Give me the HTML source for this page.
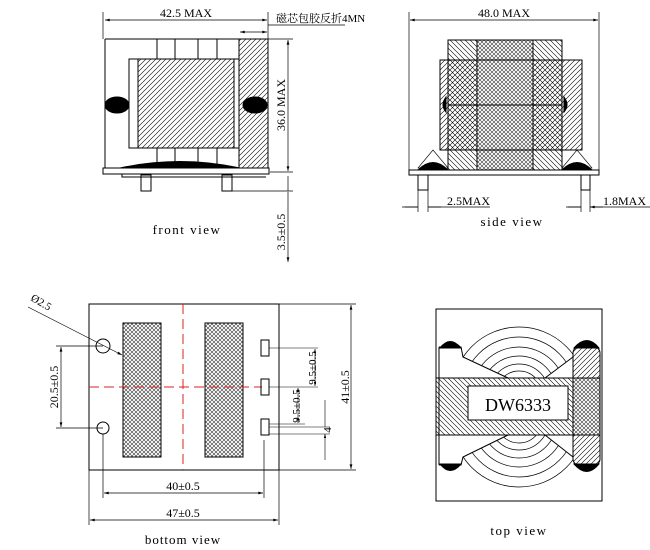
<!DOCTYPE html>
<html><head><meta charset="utf-8"><style>body{margin:0;background:#fff}svg{display:block}</style></head><body>
<svg width="650" height="550" viewBox="0 0 650 550" xmlns="http://www.w3.org/2000/svg" font-family="Liberation Serif, Noto Serif CJK SC, serif" fill="none" stroke="#000" stroke-width="1">
<defs>
<pattern id="h1" width="5" height="5" patternUnits="userSpaceOnUse"><path d="M0 5L5 0M-1 1L1 -1M4 6L6 4" stroke="#000" stroke-width="0.6"/></pattern>
<pattern id="h2" width="5" height="5" patternUnits="userSpaceOnUse"><path d="M0 0L5 5M-1 4L1 6M4 -1L6 1" stroke="#000" stroke-width="0.6"/></pattern>
<pattern id="x" width="4" height="4" patternUnits="userSpaceOnUse"><rect width="4" height="4" fill="#fff" stroke="none"/><path d="M0 0L4 4M4 0L0 4" stroke="#333" stroke-width="0.6"/></pattern>
<clipPath id="ct"><path d="M463 357L508 378H545L573 357V300H463z"/></clipPath>
<clipPath id="cb"><path d="M463 457L508 435H545L573 457V520H463z"/></clipPath>
<marker id="a" viewBox="0 0 10 6" refX="10" refY="3" markerWidth="10" markerHeight="4" orient="auto-start-reverse"><path d="M0 0L10 3L0 6z" fill="#000" stroke="none"/></marker>
</defs>
<!-- FRONT VIEW -->
<g>
<path d="M105 39V168M105 39H268"/>
<rect x="239" y="39" width="29" height="129" fill="url(#h1)"/>
<rect x="129" y="59" width="110" height="89"/>
<rect x="138" y="59" width="96" height="89" fill="url(#h1)"/>
<path d="M157 39V59M175 39V59M198 39V59M217 39V59M157 148V165M175 148V165M198 148V165M217 148V165"/>
<ellipse cx="117" cy="105" rx="12" ry="8" fill="#000"/>
<ellipse cx="255" cy="105" rx="12" ry="8" fill="#000"/>
<path d="M120 168Q180 155 240 168z" fill="#000"/>
<rect x="103" y="168" width="166" height="6"/>
<path d="M122 174V177H266"/>
<rect x="141" y="175" width="10" height="16"/>
<rect x="222" y="175" width="10" height="16"/>
<path d="M103 12V39M268 12V39" stroke-width="0.7"/>
<path d="M105 20H267" marker-start="url(#a)" marker-end="url(#a)" stroke-width="0.7"/>
<text x="186" y="17" font-size="12" fill="#000" stroke="none" text-anchor="middle">42.5 MAX</text>
<path d="M240 32H267" marker-start="url(#a)" marker-end="url(#a)" stroke-width="0.7"/>
<path d="M268 25H345" stroke-width="0.7"/>
<text x="276" y="22" font-size="11" fill="#000" stroke="none">磁芯包胶反折4MN</text>
<path d="M268 39H293M270 172H293M232 191H293" stroke-width="0.7"/>
<path d="M288 40V171" marker-start="url(#a)" marker-end="url(#a)" stroke-width="0.7"/>
<path d="M288 176V191M288 192V262" marker-end="url(#a)" stroke-width="0.7"/>
<text transform="translate(285 105) rotate(-90)" font-size="12" fill="#000" stroke="none" text-anchor="middle">36.0 MAX</text>
<text transform="translate(285 232) rotate(-90)" font-size="12" fill="#000" stroke="none" text-anchor="middle">3.5±0.5</text>
<text x="187" y="234" font-size="13" fill="#000" stroke="none" text-anchor="middle" letter-spacing="1.5">front view</text>
</g>
<!-- SIDE VIEW -->
<g>
<path d="M409 12V170M599 12V170" stroke-width="0.7"/>
<path d="M410 20H598" marker-start="url(#a)" marker-end="url(#a)" stroke-width="0.7"/>
<text x="504" y="17" font-size="12" fill="#000" stroke="none" text-anchor="middle">48.0 MAX</text>
<rect x="440" y="60" width="142" height="90" fill="url(#h1)"/>
<rect x="448" y="40" width="114" height="130" fill="url(#h2)"/>
<rect x="477" y="40" width="56" height="130" fill="url(#x)"/>
<path d="M448 60H562M448 105H562M448 150H562"/>
<path d="M433 150L418 168H448z M577 150L592 168H562z" stroke-width="0.6"/>
<path d="M418 170Q433 155 448 170z M562 170Q577 155 592 170z" fill="#000"/>
<path d="M446 97Q440 105 446 112z M564 97Q570 105 564 112z" fill="#000"/>
<rect x="409" y="170" width="190" height="5"/>
<rect x="418" y="175" width="10" height="15"/>
<rect x="581" y="175" width="9" height="15"/>
<path d="M418 190V212M428 190V212M581 190V212M590 190V212" stroke-width="0.7"/>
<path d="M402 207H418M428 207H490M566 207H581M590 207H650" stroke-width="0.7"/>
<path d="M405 207H418M441 207H428M568 207H581M603 207H590" marker-end="url(#a)" stroke-width="0.7"/>
<text x="447" y="205" font-size="12" fill="#000" stroke="none">2.5MAX</text>
<text x="603" y="205" font-size="12" fill="#000" stroke="none">1.8MAX</text>
<text x="512" y="226" font-size="13" fill="#000" stroke="none" text-anchor="middle" letter-spacing="1.5">side view</text>
</g>
<!-- BOTTOM VIEW -->
<g>
<rect x="89" y="304" width="190" height="166"/>
<rect x="123" y="323" width="38" height="134" fill="url(#x)"/>
<rect x="205" y="323" width="38" height="134" fill="url(#x)"/>
<path d="M183 304V470M89 387H262" stroke="#d22" stroke-dasharray="10 5"/>
<circle cx="103" cy="346" r="7"/>
<circle cx="103" cy="428" r="6"/>
<rect x="261" y="340" width="8" height="16"/>
<rect x="261" y="379" width="8" height="16"/>
<rect x="261" y="419" width="8" height="16"/>
<path d="M28 307L122 355" stroke-width="0.7" marker-end="url(#a)"/>
<text transform="translate(30 300) rotate(30)" font-size="11" fill="#000" stroke="none">Ø2.5</text>
<path d="M56 346H103M56 428H103" stroke-width="0.7"/>
<path d="M61 347V427" marker-start="url(#a)" marker-end="url(#a)" stroke-width="0.7"/>
<text transform="translate(58 387) rotate(-90)" font-size="12" fill="#000" stroke="none" text-anchor="middle">20.5±0.5</text>
<path d="M269 348H318M269 387H318M269 424H305M269 427H330M269 434H330" stroke-width="0.6"/>
<path d="M315 349V386" marker-start="url(#a)" marker-end="url(#a)" stroke-width="0.6"/>
<path d="M298 388V423" marker-start="url(#a)" marker-end="url(#a)" stroke-width="0.6"/>
<path d="M325 400V427M325 460V434" marker-end="url(#a)" stroke-width="0.6"/>
<text transform="translate(316 368) rotate(-90)" font-size="11" fill="#000" stroke="none" text-anchor="middle">9.5±0.5</text>
<text transform="translate(300 406) rotate(-90)" font-size="11" fill="#000" stroke="none" text-anchor="middle">9.5±0.5</text>
<text transform="translate(331 430) rotate(-90)" font-size="11" fill="#000" stroke="none" text-anchor="middle">4</text>
<path d="M279 304H356M279 470H356" stroke-width="0.7"/>
<path d="M351 305V469" marker-start="url(#a)" marker-end="url(#a)" stroke-width="0.7"/>
<text transform="translate(349 387) rotate(-90)" font-size="12" fill="#000" stroke="none" text-anchor="middle">41±0.5</text>
<path d="M103 434V498M264 440V498M89 470V525M279 470V525" stroke-width="0.7"/>
<path d="M104 493H263" marker-start="url(#a)" marker-end="url(#a)" stroke-width="0.7"/>
<path d="M90 520H278" marker-start="url(#a)" marker-end="url(#a)" stroke-width="0.7"/>
<text x="183" y="490" font-size="12" fill="#000" stroke="none" text-anchor="middle">40±0.5</text>
<text x="183" y="517" font-size="12" fill="#000" stroke="none" text-anchor="middle">47±0.5</text>
<text x="183" y="544" font-size="13" fill="#000" stroke="none" text-anchor="middle" letter-spacing="1">bottom view</text>
</g>
<!-- TOP VIEW -->
<g>
<rect x="436" y="309" width="166" height="192"/>
<g stroke-width="0.7" clip-path="url(#ct)">
<circle cx="519" cy="394" r="67"/><circle cx="519" cy="394" r="57"/><circle cx="519" cy="394" r="47"/><circle cx="519" cy="394" r="38"/><circle cx="519" cy="394" r="30"/><circle cx="519" cy="394" r="23"/>
</g>
<g stroke-width="0.7" clip-path="url(#cb)">
<circle cx="519" cy="420" r="67"/><circle cx="519" cy="420" r="57"/><circle cx="519" cy="420" r="47"/><circle cx="519" cy="420" r="38"/><circle cx="519" cy="420" r="30"/><circle cx="519" cy="420" r="23"/>
</g>
<path d="M439 347H461L463 357L508 378M573 357L545 378"/>
<path d="M439 465H461L463 457L508 435M573 457L545 435"/>
<path d="M439 347V465"/>
<path d="M440 348Q450 335 461 348z M440 464Q450 477 461 464z" fill="#000"/>
<rect x="436" y="378" width="137" height="57" fill="url(#h2)"/>
<rect x="573" y="347" width="27" height="118" rx="6" fill="url(#h1)"/>
<rect x="573" y="378" width="27" height="57" fill="url(#x)"/>
<path d="M574 348Q587 333 599 348z M574 464Q587 479 599 464z" fill="#000"/>
<rect x="468" y="386" width="100" height="34" fill="#fff"/>
<text x="518" y="411" font-size="18" fill="#000" stroke="none" text-anchor="middle">DW6333</text>
<text x="519" y="535" font-size="13" fill="#000" stroke="none" text-anchor="middle" letter-spacing="1.5">top view</text>
</g>
</svg>
</body></html>
